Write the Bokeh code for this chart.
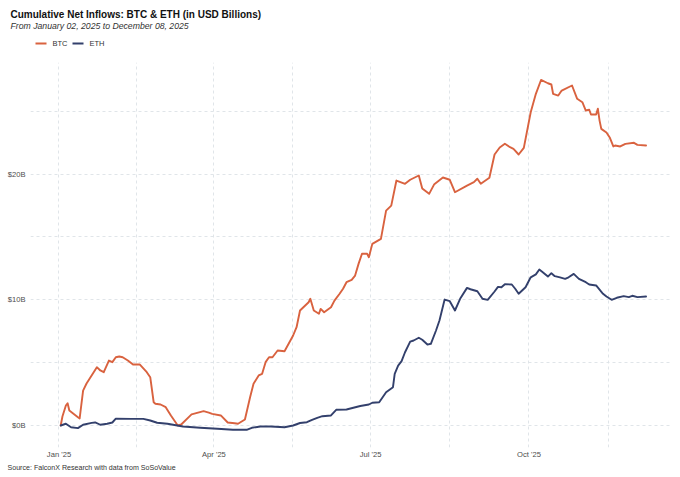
from datetime import datetime, timedelta
import pandas as pd
from bokeh.plotting import figure
from bokeh.layouts import column
from bokeh.models import (Range1d, FixedTicker, DatetimeTickFormatter, PrintfTickFormatter,
                          ColumnDataSource, Title)
from bokeh.core.properties import value
from bokeh.embed import file_html
from bokeh.resources import INLINE

# ---------------- data (USD billions, cumulative) ----------------
btc_dates = [
    "2025-01-02", "2025-01-03", "2025-01-05", "2025-01-06", "2025-01-07", "2025-01-12", "2025-01-13",
    "2025-01-15", "2025-01-17", "2025-01-23", "2025-01-25", "2025-01-27", "2025-01-30", "2025-02-01",
    "2025-02-03", "2025-02-05", "2025-02-07", "2025-02-10", "2025-02-13", "2025-02-17", "2025-02-21",
    "2025-02-23", "2025-02-25", "2025-02-26", "2025-03-01", "2025-03-04", "2025-03-07", "2025-03-11",
    "2025-03-13", "2025-03-19", "2025-03-26", "2025-03-29", "2025-03-31", "2025-04-05", "2025-04-09",
    "2025-04-13", "2025-04-15", "2025-04-19", "2025-04-22", "2025-04-24", "2025-04-27", "2025-04-29",
    "2025-05-01", "2025-05-03", "2025-05-05", "2025-05-08", "2025-05-12", "2025-05-17", "2025-05-19",
    "2025-05-21", "2025-05-26", "2025-05-27", "2025-05-29", "2025-06-01", "2025-06-02", "2025-06-04",
    "2025-06-08", "2025-06-10", "2025-06-13", "2025-06-15", "2025-06-17", "2025-06-20", "2025-06-22",
    "2025-06-24", "2025-06-26", "2025-06-29", "2025-06-30", "2025-07-02", "2025-07-07", "2025-07-10",
    "2025-07-13", "2025-07-16", "2025-07-21", "2025-07-24", "2025-07-29", "2025-07-31", "2025-08-04",
    "2025-08-07", "2025-08-12", "2025-08-16", "2025-08-19", "2025-08-26", "2025-08-30", "2025-09-01",
    "2025-09-03", "2025-09-08", "2025-09-11", "2025-09-14", "2025-09-17", "2025-09-20", "2025-09-22",
    "2025-09-25", "2025-09-28", "2025-10-02", "2025-10-05", "2025-10-08", "2025-10-12", "2025-10-14",
    "2025-10-15", "2025-10-18", "2025-10-20", "2025-10-26", "2025-10-29", "2025-11-01", "2025-11-03",
    "2025-11-05", "2025-11-06", "2025-11-09", "2025-11-10", "2025-11-11", "2025-11-12", "2025-11-15",
    "2025-11-17", "2025-11-19", "2025-11-20", "2025-11-23", "2025-11-26", "2025-12-01", "2025-12-03",
    "2025-12-08",
]
btc_values = [
    0.00, 0.72, 1.59, 1.77, 1.19, 0.66, 0.56,
    2.78, 3.34, 4.64, 4.38, 4.24, 5.17, 5.04,
    5.43, 5.49, 5.43, 5.17, 4.85, 4.85, 4.24,
    3.84, 1.85, 1.73, 1.67, 1.46, 0.80, 0.00,
    0.08, 0.88, 1.14, 1.03, 0.93, 0.80, 0.24,
    0.18, 0.14, 0.48, 2.25, 3.32, 3.98, 4.11,
    5.04, 5.43, 5.43, 5.97, 5.91, 7.16, 7.82,
    9.15, 9.81, 10.08, 9.15, 8.89, 9.28, 9.01,
    9.41, 9.94, 10.48, 10.88, 11.40, 11.59, 11.93,
    12.86, 13.66, 13.66, 13.39, 14.45, 14.85, 17.10,
    17.49, 19.49, 19.23, 19.55, 19.89, 18.85, 18.43,
    19.20, 19.73, 19.55, 18.56, 19.09, 19.36, 19.63,
    19.23, 19.71, 21.56, 22.12, 22.41, 22.14, 22.01,
    21.56, 22.09, 24.92, 26.39, 27.49, 27.23, 27.13,
    26.39, 26.25, 26.65, 27.05, 25.99, 25.72, 25.06,
    25.12, 24.74, 24.74, 25.20, 24.26, 23.60, 23.31,
    22.89, 22.20, 22.28, 22.20, 22.41, 22.49, 22.33,
    22.28,
]

eth_dates = [
    "2025-01-02", "2025-01-05", "2025-01-08", "2025-01-12", "2025-01-15", "2025-01-20", "2025-01-22",
    "2025-01-25", "2025-01-29", "2025-02-01", "2025-02-03", "2025-02-12", "2025-02-19", "2025-02-23",
    "2025-02-27", "2025-03-05", "2025-03-14", "2025-03-24", "2025-04-03", "2025-04-12", "2025-04-20",
    "2025-04-23", "2025-04-28", "2025-05-04", "2025-05-12", "2025-05-17", "2025-05-21", "2025-05-25",
    "2025-05-28", "2025-05-31", "2025-06-03", "2025-06-08", "2025-06-11", "2025-06-17", "2025-06-21",
    "2025-06-25", "2025-06-30", "2025-07-02", "2025-07-06", "2025-07-08", "2025-07-10", "2025-07-14",
    "2025-07-15", "2025-07-17", "2025-07-19", "2025-07-21", "2025-07-24", "2025-07-26", "2025-07-29",
    "2025-07-31", "2025-08-03", "2025-08-05", "2025-08-08", "2025-08-10", "2025-08-13", "2025-08-16",
    "2025-08-19", "2025-08-22", "2025-08-26", "2025-08-28", "2025-09-01", "2025-09-04", "2025-09-07",
    "2025-09-11", "2025-09-13", "2025-09-15", "2025-09-17", "2025-09-21", "2025-09-23", "2025-09-25",
    "2025-09-29", "2025-10-02", "2025-10-05", "2025-10-07", "2025-10-09", "2025-10-12", "2025-10-14",
    "2025-10-16", "2025-10-19", "2025-10-22", "2025-10-24", "2025-10-27", "2025-10-30", "2025-11-03",
    "2025-11-05", "2025-11-09", "2025-11-13", "2025-11-15", "2025-11-18", "2025-11-21", "2025-11-25",
    "2025-11-28", "2025-11-30", "2025-12-03", "2025-12-08",
]
eth_values = [
    0.00, 0.14, -0.14, -0.21, 0.06, 0.21, 0.24,
    0.06, 0.14, 0.24, 0.54, 0.53, 0.53, 0.40,
    0.22, 0.14, -0.08, -0.18, -0.26, -0.34, -0.34,
    -0.18, -0.08, -0.08, -0.14, 0.00, 0.20, 0.26,
    0.45, 0.61, 0.74, 0.80, 1.25, 1.27, 1.41,
    1.55, 1.67, 1.81, 1.85, 2.25, 2.65, 3.05,
    4.11, 4.77, 5.12, 5.83, 6.68, 6.76, 6.98,
    6.82, 6.44, 6.50, 7.56, 8.35, 10.02, 9.89,
    9.15, 10.08, 10.95, 10.84, 10.68, 10.08, 10.00,
    10.66, 11.03, 11.00, 11.24, 11.22, 10.88, 10.48,
    11.00, 11.79, 12.02, 12.41, 12.20, 11.85, 12.12,
    11.88, 11.79, 11.67, 11.79, 12.06, 11.67, 11.40,
    11.22, 11.14, 10.48, 10.26, 10.00, 10.16, 10.29,
    10.21, 10.32, 10.21, 10.26,
]

series_names = ["BTC", "ETH"]
series_colors = ["#D9623F", "#33406C"]

x_major_dates = ["2025-01-01", "2025-04-01", "2025-07-01", "2025-10-01"]
x_minor_dates = ["2025-02-15", "2025-05-16 12:00", "2025-08-16", "2025-11-16"]
y_major = [0, 10, 20]
y_minor = [5, 15, 25]

title_text = "Cumulative Net Inflows: BTC & ETH (in USD Billions)"
subtitle_text = "From January 02, 2025 to December 08, 2025"
source_text = "Source: FalconX Research with data from SoSoValue"

FONT = "Liberation Sans"
W = 680
HEAD_H, MAIN_H = 62, 415
FRAME_LEFT, FRAME_RIGHT_BORDER = 30, 10
TEXT_LEFT = 10


def no_align(fig):
    if "frame_align" in fig.properties():
        fig.frame_align = False
    return fig

# ---------------- header: title, subtitle, legend (pixel coordinates) ----------------
head = no_align(figure(width=W, height=HEAD_H, x_range=Range1d(0, W), y_range=Range1d(HEAD_H, 0),
                       x_axis_location=None, y_axis_location=None,
                       output_backend="svg", toolbar_location=None,
                       min_border_left=0, min_border_right=0, min_border_top=0, min_border_bottom=0))
head.outline_line_color = None
head.grid.visible = False
head.background_fill_color = "white"
head.border_fill_color = "white"
head.text(x=[TEXT_LEFT], y=[14.3], text=[title_text], text_font=value(FONT), text_font_size="10px",
          text_font_style="bold", text_color="#111111", text_baseline="alphabetic")
head.text(x=[TEXT_LEFT], y=[25.3], text=[subtitle_text], text_font=value(FONT), text_font_size="8.7px",
          text_font_style="italic", text_color="#333333", text_baseline="alphabetic")
key_x0 = [FRAME_LEFT + 5, FRAME_LEFT + 42]
key_len = 11
head.segment(x0=key_x0, y0=[43, 43], x1=[k + key_len for k in key_x0], y1=[43, 43],
             line_color=series_colors, line_width=2)
head.text(x=[k + key_len + 6 for k in key_x0], y=[43, 43], text=series_names, text_font=value(FONT),
          text_font_size="7.5px", text_color="#333333", text_baseline="middle")

# ---------------- main chart ----------------
x_start = datetime(2025, 1, 1) - timedelta(days=16.55)
x_end = x_start + timedelta(days=371.75)

p = no_align(figure(width=W, height=MAIN_H, x_axis_type="datetime",
                    x_range=Range1d(x_start, x_end), y_range=Range1d(-1.75, 28.88),
                    output_backend="svg", toolbar_location=None,
                    min_border_left=FRAME_LEFT, min_border_right=FRAME_RIGHT_BORDER,
                    min_border_top=0, min_border_bottom=MAIN_H - 385))
p.outline_line_color = None
p.background_fill_color = "white"
p.border_fill_color = "white"


def ms(s):
    return pd.Timestamp(s).value / 1e6


p.xaxis.ticker = FixedTicker(ticks=[ms(d) for d in x_major_dates],
                             minor_ticks=[ms(d) for d in x_minor_dates])
p.xaxis.formatter = DatetimeTickFormatter(days="%b '%y", months="%b '%y", years="%b '%y",
                                          hours="%b '%y", hourmin="%b '%y")
p.yaxis.ticker = FixedTicker(ticks=y_major, minor_ticks=y_minor)
p.yaxis.formatter = PrintfTickFormatter(format="$%dB")

for ax in (p.xaxis, p.yaxis):
    ax.axis_line_color = None
    ax.major_tick_line_color = None
    ax.minor_tick_line_color = None
    ax.major_tick_out = 0
    ax.major_tick_in = 0
    ax.minor_tick_out = 0
    ax.minor_tick_in = 0
    ax.major_label_text_font = FONT
    ax.major_label_text_font_size = "7.6px"
    ax.major_label_text_color = "#4d4d4d"
p.xaxis.major_label_standoff = 2
p.yaxis.major_label_standoff = 5

grid_color = "#dde2e6"
for g in (p.xgrid, p.ygrid):
    g.grid_line_color = grid_color
    g.grid_line_dash = "3 3"
    g.grid_line_width = 0.9
    g.minor_grid_line_color = grid_color
    g.minor_grid_line_dash = "3 3"
    g.minor_grid_line_width = 0.9

for name, dates, vals, col in zip(series_names, [btc_dates, eth_dates], [btc_values, eth_values], series_colors):
    src = ColumnDataSource(dict(x=pd.to_datetime(dates), y=vals))
    p.line("x", "y", source=src, line_color=col, line_width=1.9, line_join="round", line_cap="round")

# source caption below the x axis, starting at the plot's left edge
p.add_layout(Title(text=source_text, align="left", offset=7 - FRAME_LEFT, standoff=0,
                   text_font=FONT, text_font_size="7.1px", text_font_style="normal",
                   text_color="#333333"), "below")

layout = column(head, p, spacing=0)
open("out.html", "w").write(file_html(layout, INLINE))
